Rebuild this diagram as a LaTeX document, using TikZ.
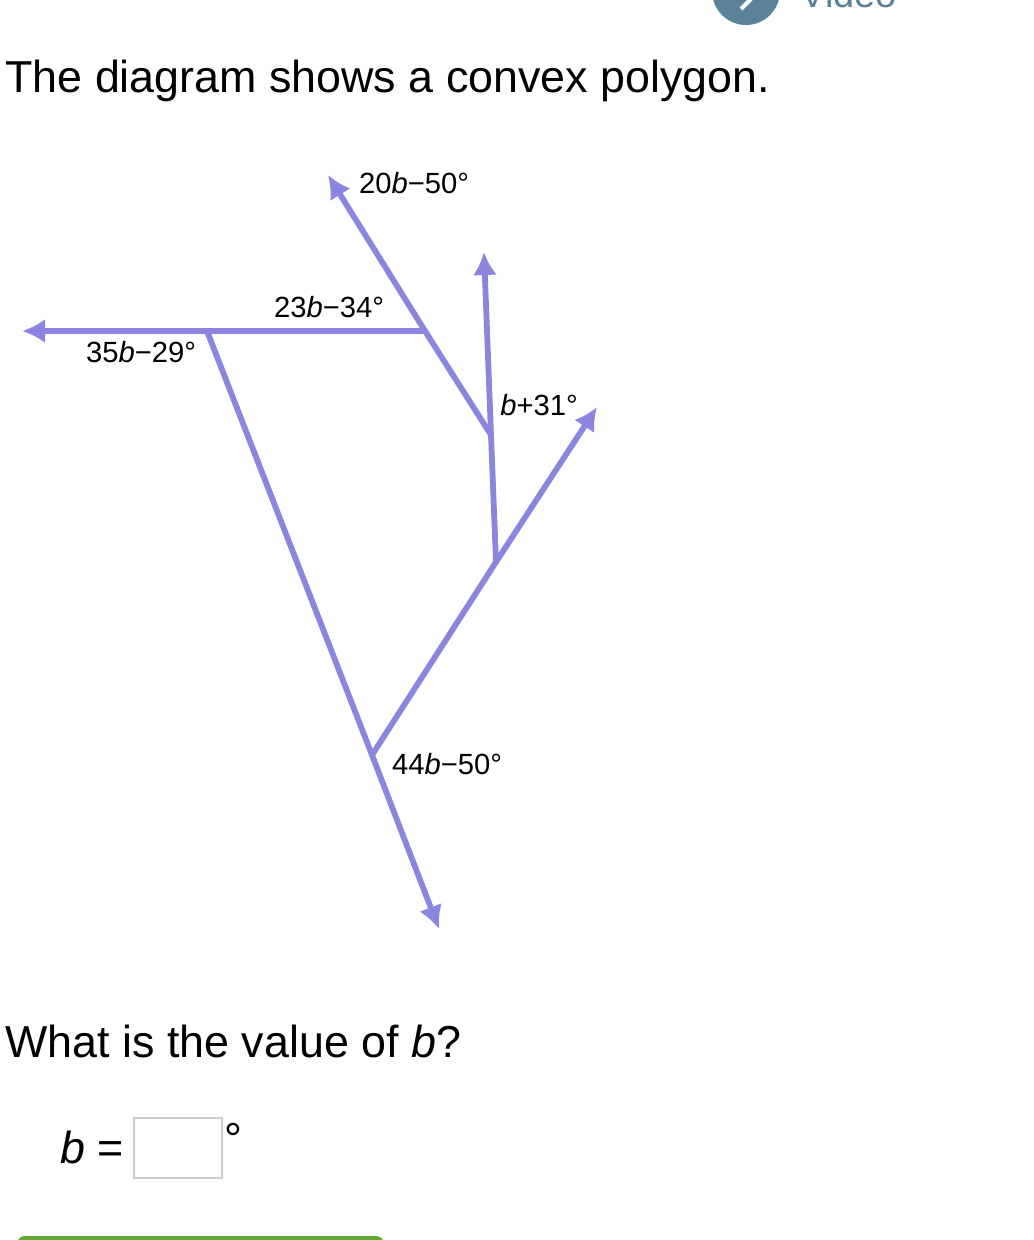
\documentclass[tikz,border=0pt]{standalone}
\usepackage{fontspec}
\setmainfont{Liberation Sans}
\usetikzlibrary{arrows.meta}
\usetikzlibrary{positioning}

\definecolor{raycol}{RGB}{140,133,224}
\definecolor{badgecol}{RGB}{90,131,153}
\definecolor{barcol}{RGB}{96,168,48}
\definecolor{boxcol}{RGB}{204,204,204}

\begin{document}
\begin{tikzpicture}
	[
	x=0.5pt, y=-0.5pt,
	> = {Latex[length=11.5pt,width=12pt]},
	side/.style = {draw=raycol, line width=2.9pt, line cap=round, line join=round},
	ray/.style = {side, ->},
	angle/.style = {font=\fontsize{14.6}{17}\selectfont, inner sep=0pt},
	big/.style = {font=\fontsize{22.4}{26}\selectfont, inner sep=0pt}
	]
	\path[use as bounding box, clip] (0,0) rectangle (1033,1240);

	% badge cut at the top edge
	\fill[badgecol] (746,-9) circle (34);
	\draw[white, line width=2pt] (741,9) -- (751,-1);
	\node[anchor=base west, inner sep=0pt, text=badgecol, font=\fontsize{19}{22}\selectfont] (video) at (800,8) {Video};

	\node[big, anchor=west] (title) at (5,81) {The diagram shows a convex polygon.};

	% vertices of the polygon
	\coordinate (A) at (207,331);
	\coordinate (B) at (425,331);
	\coordinate (C) at (491,435);
	\coordinate (D) at (496,562);
	\coordinate (E) at (372,755);
	% ends of the extended sides
	\coordinate (Aend) at (22,331);
	\coordinate (Bend) at (328,175);
	\coordinate (Cend) at (484,252);
	\coordinate (Dend) at (597,407);
	\coordinate (Eend) at (439,929);

	\draw[side] (A) -- (B) -- (C) -- (D) -- (E) -- cycle;
	\draw[ray] (A) -- (Aend);
	\draw[ray] (B) -- (Bend);
	\draw[ray] (C) -- (Cend);
	\draw[ray] (D) -- (Dend);
	\draw[ray] (E) -- (Eend);

	\node[angle] (angB) at (414,183) {20\textit{b}−50°};
	\node[angle] (angA) at (329,307) {23\textit{b}−34°};
	\node[angle] (angE) at (141,352) {35\textit{b}−29°};
	\node[angle] (angC) at (539,405) {\textit{b}+31°};
	\node[angle] (angD) at (447,764) {44\textit{b}−50°};

	\node[big, anchor=west] (question) at (5,1041) {What is the value of \textit{b}?};

	\node[big, anchor=west] (bvar) at (60,1147) {\textit{b} =};
	\node[draw=boxcol, line width=1pt, minimum width=44pt, minimum height=30pt, inner sep=0pt] (answer) at (177.5,1147.5) {};
	\node[big, anchor=north west] (deg) at (224,1123) {°};

	\fill[barcol, rounded corners=4pt] (17,1236) rectangle (384,1256);
\end{tikzpicture}
\end{document}
